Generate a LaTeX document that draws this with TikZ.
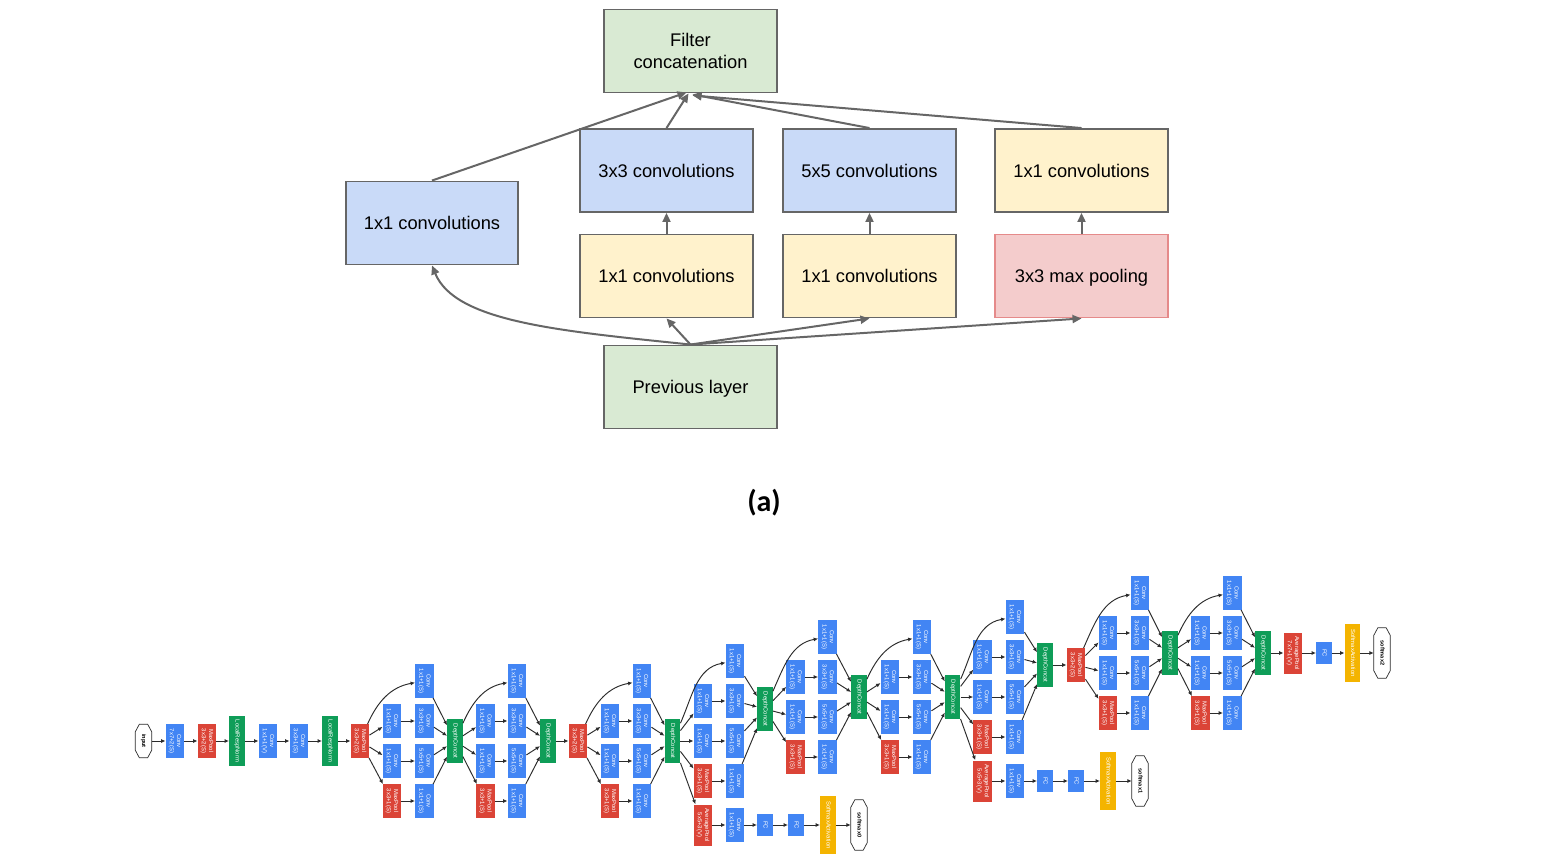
\documentclass[tikz,border=0pt]{standalone}
\usepackage{fontspec}
\setmainfont{Liberation Sans}
\newfontfamily\calfont{Carlito}
\usetikzlibrary{arrows.meta}
\definecolor{lblue}{HTML}{C9DAF8}
\definecolor{lyellow}{HTML}{FFF2CC}
\definecolor{lpink}{HTML}{F4CCCC}
\definecolor{lpinkb}{HTML}{E58A8A}
\definecolor{lgreen}{HTML}{D9EAD3}
\definecolor{lline}{HTML}{666666}
\definecolor{gblue}{HTML}{4285F4}
\definecolor{gred}{HTML}{DB4437}
\definecolor{ggreen}{HTML}{0F9D58}
\definecolor{gyellow}{HTML}{F4B400}
\definecolor{gedge}{HTML}{2B2B2B}
\tikzset{
  bigbox/.style={draw=lline,line width=1.9pt,minimum width=172.5pt,minimum height=83pt,inner sep=0pt,font=\fontsize{18.3}{21.5}\selectfont,align=center,text=black},
  bigedge/.style={draw=lline,line width=2pt,-{Triangle[length=9pt,width=8pt]}},
  small/.style={inner sep=0pt,text=white,font=\fontsize{5.9}{7.2}\selectfont},
  conv/.style={small,fill=gblue,minimum width=18.5pt,minimum height=33.5pt},
  pool/.style={small,fill=gred,minimum width=18.5pt,minimum height=33.5pt},
  apool/.style={small,fill=gred,minimum width=18.5pt,minimum height=41pt},
  norm/.style={small,fill=ggreen,minimum width=15.5pt,minimum height=50pt},
  cat/.style={small,fill=ggreen,minimum width=15.5pt,minimum height=43.5pt},
  fc/.style={small,fill=gblue,minimum width=15.5pt,minimum height=22.5pt},
  act/.style={small,fill=gyellow,minimum width=15.5pt,minimum height=57.5pt},
  octo/.style={inner sep=0pt,text=black,font=\bfseries\fontsize{5.6}{6.8}\selectfont,minimum width=16pt},
  edge/.style={draw=gedge,line width=0.95pt,-{Latex[length=4.5pt,width=4pt]}},
}
\newcommand\rtxt[1]{\rotatebox{-90}{\begin{tabular}{@{}c@{}}#1\end{tabular}}}
\newcommand\nd[5]{\node[#1] (#2) at (#3,#4) {\rtxt{#5}};}
\newcommand\nodepth[1]{\raisebox{0pt}[\height][0pt]{#1}}
% octagon: name, x, y, height, text
\newcommand\octa[5]{%
  \node[octo,minimum height=#4pt] (#1) at (#2,#3) {\rtxt{#5}};
  \draw[draw=gedge,line width=0.7pt]
    ([xshift=4pt]#1.north west) -- ([xshift=-4pt]#1.north east)
    -- ([yshift=-7.5pt]#1.north east) -- ([yshift=7.5pt]#1.south east)
    -- ([xshift=-4pt]#1.south east) -- ([xshift=4pt]#1.south west)
    -- ([yshift=7.5pt]#1.south west) -- ([yshift=-7.5pt]#1.north west) -- cycle;}
% prefix, input node, xA, xB, xC, y of first row, y of concat
\newcommand\incep[7]{%
  \pgfmathsetmacro\yT{#6-40}\pgfmathsetmacro\yB{#6+40}\pgfmathsetmacro\yC{#6+80}%
  \nd{conv}{#1t}{#4}{\yT}{Conv\\1x1+1(S)}
  \nd{conv}{#1p}{#3}{#6}{Conv\\1x1+1(S)}
  \nd{conv}{#1q}{#3}{\yB}{Conv\\1x1+1(S)}
  \nd{pool}{#1r}{#3}{\yC}{MaxPool\\3x3+1(S)}
  \nd{conv}{#1u}{#4}{#6}{Conv\\3x3+1(S)}
  \nd{conv}{#1v}{#4}{\yB}{Conv\\5x5+1(S)}
  \nd{conv}{#1w}{#4}{\yC}{Conv\\1x1+1(S)}
  \nd{cat}{#1c}{#5}{#7}{DepthConcat}
  \draw[edge] (#2) to[out=66,in=190] (#1t);
  \draw[edge] (#2) -- (#1p);
  \draw[edge] (#2) -- (#1q);
  \draw[edge] (#2) -- (#1r);
  \draw[edge] (#1p) -- (#1u);
  \draw[edge] (#1q) -- (#1v);
  \draw[edge] (#1r) -- (#1w);
  \draw[edge] (#1t) -- (#1c);
  \draw[edge] (#1u) -- (#1c);
  \draw[edge] (#1v) -- (#1c);
  \draw[edge] (#1w) -- (#1c);}
\begin{document}
\begin{tikzpicture}[x=1pt,y=-1pt]
\useasboundingbox (0,0) rectangle (1552,861);
% --- panel (a)
\node[bigbox,fill=lgreen] (filter) at (690.5,51) {Filter\\concatenation};
\node[bigbox,fill=lblue] (t3) at (666.5,170.5) {3x3 convolutions};
\node[bigbox,fill=lblue] (t5) at (869.5,170.5) {5x5 convolutions};
\node[bigbox,fill=lyellow] (t1) at (1081.5,170.5) {1x1 convolutions};
\node[bigbox,fill=lblue] (left) at (432,223) {1x1 convolutions};
\node[bigbox,fill=lyellow] (m3) at (666.5,276) {1x1 convolutions};
\node[bigbox,fill=lyellow] (m5) at (869.5,276) {1x1 convolutions};
\node[bigbox,fill=lpink,draw=lpinkb] (mp) at (1081.5,276) {\nodepth{3x3 max pooling}};
\node[bigbox,fill=lgreen] (prev) at (690.5,387) {\nodepth{Previous layer}};
\draw[bigedge] (left.north) -- ([xshift=-4pt,yshift=1pt]filter.south);
\draw[bigedge] (t3.north) -- ([xshift=-2pt]filter.south);
\draw[bigedge] (t5.north) -- ([xshift=2pt,yshift=-1pt]filter.south);
\draw[bigedge] (t1.north) -- ([xshift=2pt,yshift=-2pt]filter.south);
\draw[bigedge] (m3.north) -- (t3.south);
\draw[bigedge] (m5.north) -- (t5.south);
\draw[bigedge] (mp.north) -- (t1.south);
\draw[bigedge] (prev.north) -- (m3.south);
\draw[bigedge] (prev.north) -- (m5.south);
\draw[bigedge] (prev.north) -- (mp.south);
\draw[bigedge] (prev.north) .. controls (560,331) and (455,322) .. (left.south);
\node[font=\calfont\bfseries\fontsize{30}{34}\selectfont,text=black] (lab) at (764,503) {(a)};
% --- panel (b)
\octa{input}{143.5}{741}{33}{input}
\nd{conv}{c1}{175}{741}{Conv\\7x7+2(S)}
\nd{pool}{p1}{207}{741}{MaxPool\\3x3+2(S)}
\nd{norm}{n1}{237}{741}{LocalRespNorm}
\nd{conv}{c2}{268}{741}{Conv\\1x1+1(V)}
\nd{conv}{c3}{299}{741}{Conv\\3x3+1(S)}
\nd{norm}{n2}{330}{741}{LocalRespNorm}
\nd{pool}{p2}{360}{741}{MaxPool\\3x3+2(S)}
\draw[edge] (input) -- (c1);
\draw[edge] (c1) -- (p1);
\draw[edge] (p1) -- (n1);
\draw[edge] (n1) -- (c2);
\draw[edge] (c2) -- (c3);
\draw[edge] (c3) -- (n2);
\draw[edge] (n2) -- (p2);
\incep{ia}{p2}{392}{424.5}{455}{721}{741}
\incep{ib}{iac}{485.5}{517}{548}{721}{741}
\nd{pool}{p3}{578}{741}{MaxPool\\3x3+2(S)}
\draw[edge] (ibc) -- (p3);
\incep{ic}{p3}{610}{642}{672.5}{721}{741}
\incep{id}{icc}{703}{735}{765}{701}{709}
\incep{ie}{idc}{795.6}{827.6}{859}{677}{697}
\incep{if}{iec}{890}{922}{952.7}{677}{697}
\incep{ig}{ifc}{982.7}{1015}{1045}{657}{665}
\nd{pool}{p4}{1076}{665}{MaxPool\\3x3+2(S)}
\draw[edge] (igc) -- (p4);
\incep{ih}{p4}{1108}{1140}{1170}{633}{653}
\incep{ii}{ihc}{1200.5}{1232.5}{1263}{633}{653}
% final classifier
\nd{apool}{a3}{1293}{653}{AveragePool\\7x7+1(V)}
\nd{fc}{f3}{1324}{653}{FC}
\nd{act}{s3}{1352.5}{653}{SoftmaxActivation}
\octa{o3}{1382}{653}{50}{softmax2}
\draw[edge] (iic) -- (a3);
\draw[edge] (a3) -- (f3);
\draw[edge] (f3) -- (s3);
\draw[edge] (s3) -- (o3);
% auxiliary classifier 0
\nd{apool}{a1}{703}{825}{AveragePool\\5x5+3(V)}
\nd{conv}{x1}{735}{825}{Conv\\1x1+1(S)}
\nd{fc}{f1}{765}{825}{FC}
\nd{fc}{g1}{796}{825}{FC}
\nd{act}{s1}{828}{825}{SoftmaxActivation}
\octa{o1}{859}{825}{50}{softmax0}
\draw[edge] (icc) -- (a1);
\draw[edge] (a1) -- (x1);
\draw[edge] (x1) -- (f1);
\draw[edge] (f1) -- (g1);
\draw[edge] (g1) -- (s1);
\draw[edge] (s1) -- (o1);
% auxiliary classifier 1
\nd{apool}{a2}{982.7}{781}{AveragePool\\5x5+3(V)}
\nd{conv}{x2}{1015}{781}{Conv\\1x1+1(S)}
\nd{fc}{f2}{1045}{781}{FC}
\nd{fc}{g2}{1076}{781}{FC}
\nd{act}{s2}{1108}{781}{SoftmaxActivation}
\octa{o2}{1140}{781}{50}{softmax1}
\draw[edge] (ifc) -- (a2);
\draw[edge] (a2) -- (x2);
\draw[edge] (x2) -- (f2);
\draw[edge] (f2) -- (g2);
\draw[edge] (g2) -- (s2);
\draw[edge] (s2) -- (o2);
\end{tikzpicture}
\end{document}
